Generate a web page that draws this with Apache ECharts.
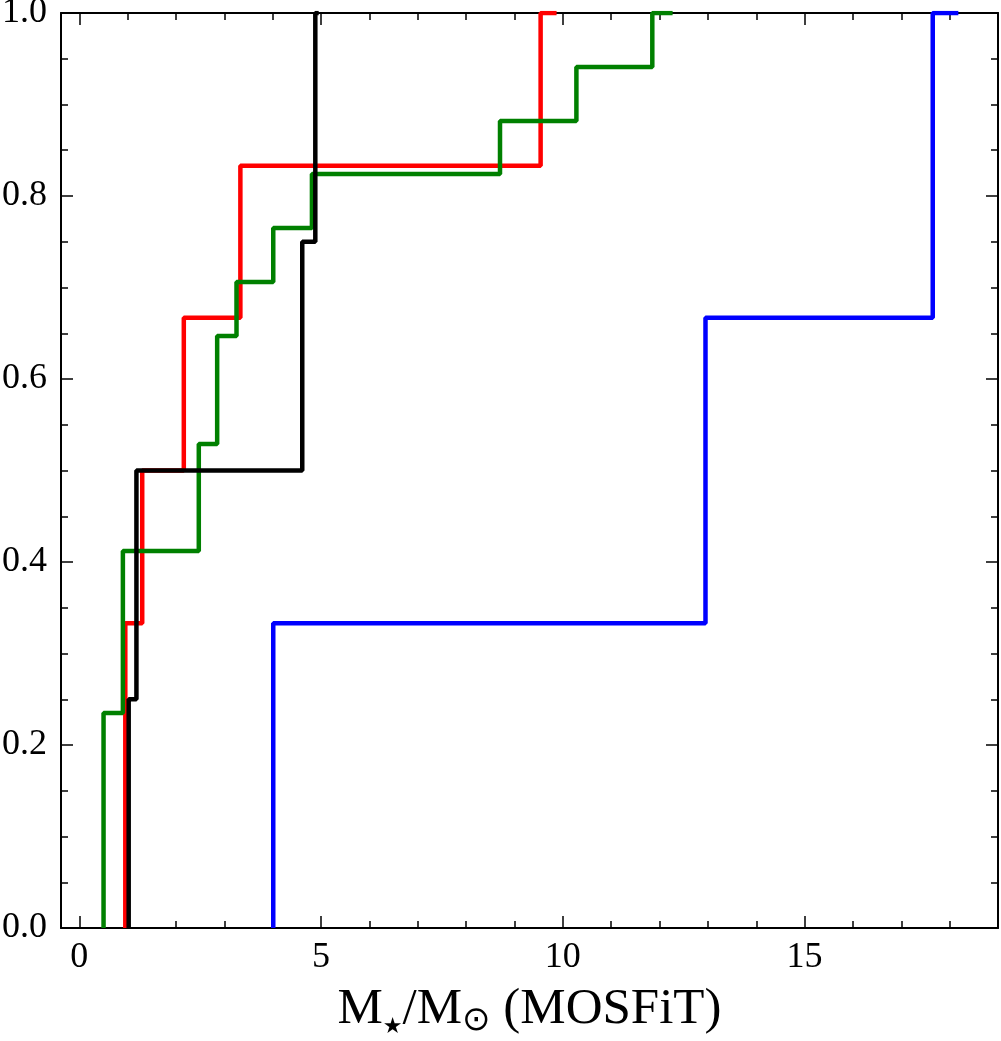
<!DOCTYPE html>
<html>
<head>
<meta charset="utf-8">
<script src="https://cdn.jsdelivr.net/npm/echarts@6/dist/echarts.min.js"></script>
<style>
  html, body { margin: 0; padding: 0; background: #fff; }
  #chart { width: 1001px; height: 1041px; }
</style>
</head>
<body>
<div id="chart"></div>
<script>
// step vertices (x = mass, y = fraction)
var redX   = [0.95, 0.95, 1.30, 2.16, 3.33, 9.54, 9.87];
var redY   = [0, 0.333, 0.5, 0.667, 0.833, 1.0, 1.0];
var greenX = [0.50, 0.50, 0.90, 2.47, 2.85, 3.25, 4.01, 4.81, 8.70, 10.28, 11.85, 12.27];
var greenY = [0, 0.235, 0.412, 0.529, 0.647, 0.706, 0.765, 0.824, 0.882, 0.941, 1.0, 1.0];
var blackX = [1.02, 1.02, 1.18, 4.61, 4.88, 4.95];
var blackY = [0, 0.25, 0.5, 0.75, 1.0, 1.0];
var blueX  = [4.01, 4.01, 12.95, 17.65, 18.18];
var blueY  = [0, 0.333, 0.667, 1.0, 1.0];

var xMajor = [0, 5, 10, 15];
var xMinor = [0, 1, 2, 3, 4, 5, 6, 7, 8, 9, 10, 11, 12, 13, 14, 15, 16, 17, 18];
var XMIN = -0.38, XMAX = 19.0;

var serif = '"Liberation Serif", "DejaVu Serif", serif';

function pairs(xs, ys) {
  return xs.map(function (x, i) { return [x, ys[i]]; });
}

function xAx(pos, ticks, len, withLine, withLabel) {
  var ax = {
    type: 'value', position: pos, min: XMIN, max: XMAX,
    axisLine: { show: withLine, onZero: false, lineStyle: { color: '#000', width: 2 } },
    axisTick: { show: true, inside: true, length: len, customValues: ticks,
                lineStyle: { color: '#000', width: 1.5 } },
    axisLabel: { show: withLabel, customValues: xMajor, margin: 12,
                 fontFamily: serif, fontSize: 36, color: '#000' },
    splitLine: { show: false }
  };
  return ax;
}

function yAx(pos, withLabel) {
  return {
    type: 'value', position: pos, min: 0, max: 1, interval: 0.2,
    axisLine: { show: true, onZero: false, lineStyle: { color: '#000', width: 2 } },
    axisTick: { show: true, inside: true, length: 12, lineStyle: { color: '#000', width: 1.5 } },
    minorTick: { show: true, splitNumber: 4, length: 7, lineStyle: { color: '#000', width: 1.5 } },
    axisLabel: { show: withLabel, margin: 14, fontFamily: serif, fontSize: 36, color: '#000',
                 formatter: function (v) { return v.toFixed(1); } },
    splitLine: { show: false }
  };
}

var bottomMajor = xAx('bottom', xMajor, 12, true, true);
bottomMajor.name = '{a|M}{s|★}{a|/M}{o|⊙}{a| (MOSFiT)}';
bottomMajor.nameLocation = 'middle';
bottomMajor.nameGap = 54;
bottomMajor.nameTextStyle = {
  fontFamily: serif, color: '#000',
  rich: {
    a: { fontFamily: serif, fontSize: 51, lineHeight: 56, verticalAlign: 'middle', color: '#000' },
    s: { fontFamily: '"DejaVu Sans", sans-serif', fontSize: 22, lineHeight: 24, verticalAlign: 'bottom', color: '#000' },
    o: { fontFamily: '"DejaVu Sans", sans-serif', fontSize: 34, lineHeight: 36, verticalAlign: 'bottom', color: '#000' }
  }
};

function stepLine(xs, ys, color) {
  return {
    type: 'line', step: 'end', xAxisIndex: 0, yAxisIndex: 0,
    data: pairs(xs, ys), showSymbol: false, symbol: 'none', clip: true,
    lineStyle: { color: color, width: 4.5 }
  };
}

var chart = echarts.init(document.getElementById('chart'), null, { renderer: 'canvas' });
chart.setOption({
  animation: false,
  backgroundColor: '#fff',
  grid: { left: 61, right: 3, top: 13, bottom: 113, containLabel: false, outerBoundsMode: 'none' },
  xAxis: [
    bottomMajor,
    xAx('bottom', xMinor, 7, false, false),
    xAx('top', xMajor, 12, true, false),
    xAx('top', xMinor, 7, false, false)
  ],
  yAxis: [yAx('left', true), yAx('right', false)],
  series: [
    stepLine(redX, redY, '#ff0000'),
    stepLine(greenX, greenY, '#008000'),
    stepLine(blackX, blackY, '#000000'),
    stepLine(blueX, blueY, '#0000ff')
  ]
});
</script>
</body>
</html>
